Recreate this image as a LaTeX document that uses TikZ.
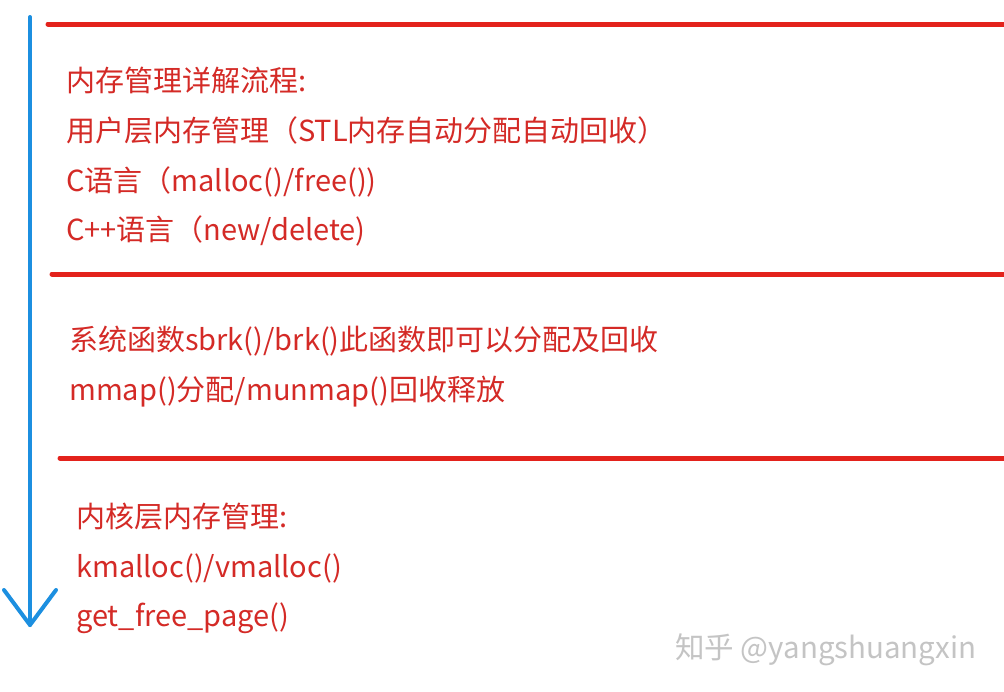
\documentclass[tikz,border=0pt]{standalone}
\usepackage{fontspec}
\setmainfont{Noto Sans CJK SC}
\newfontfamily\cjk{Noto Sans CJK SC}
\definecolor{txtred}{HTML}{D42A26}
\definecolor{linered}{HTML}{E3221C}
\definecolor{arrowblue}{HTML}{1C8FE0}
\definecolor{wmgray}{HTML}{C4C4C4}
\tikzset{
  sep/.style={draw=linered, line width=5pt, line cap=round},
  flow/.style={draw=arrowblue, line width=4pt, line cap=round, line join=round},
  txt/.style={anchor=base west, inner sep=0pt, text=txtred, font=\cjk\fontsize{29}{29}\selectfont},
  wm/.style={anchor=base west, inner sep=0pt, text=wmgray, font=\cjk\fontsize{29.5}{29.5}\selectfont}
}
\begin{document}
\begin{tikzpicture}[x=1pt,y=-1pt]
\useasboundingbox[fill=white] (0,0) rectangle (1004,691);
% blue flow arrow
\coordinate (atop) at (30,17);
\coordinate (atip) at (30,625);
\coordinate (aleft) at (4,590);
\coordinate (aright) at (56,590);
\draw[flow] (atop) -- (atip);
\draw[flow] (aleft) -- (atip) -- (aright);
% red separators
\coordinate (s1a) at (48,24); \coordinate (s1b) at (1010,24);
\coordinate (s2a) at (52,274); \coordinate (s2b) at (1010,274);
\coordinate (s3a) at (60,458); \coordinate (s3b) at (1010,458);
\draw[sep] (s1a) -- (s1b);
\draw[sep] (s2a) -- (s2b);
\draw[sep] (s3a) -- (s3b);
% block 1
\node[txt] (t11) at (66,91) {内存管理详解流程:};
\node[txt] (t12) at (66,141) {用户层内存管理（STL内存自动分配自动回收）};
\node[txt] (t13) at (66,191) {C语言（malloc()/free())};
\node[txt] (t14) at (66,240) {C++语言（new/delete)};
% block 2
\node[txt] (t21) at (69,350) {系统函数sbrk()/brk()此函数即可以分配及回收};
\node[txt] (t22) at (69,400) {mmap()分配/munmap()回收释放};
% block 3
\node[txt] (t31) at (76,527) {内核层内存管理:};
\node[txt] (t32) at (76,577) {kmalloc()/vmalloc()};
\node[txt] (t33) at (76,626) {get\_free\_page()};
% watermark
\node[wm] (w) at (675,658) {知乎 @yangshuangxin};
\end{tikzpicture}
\end{document}
